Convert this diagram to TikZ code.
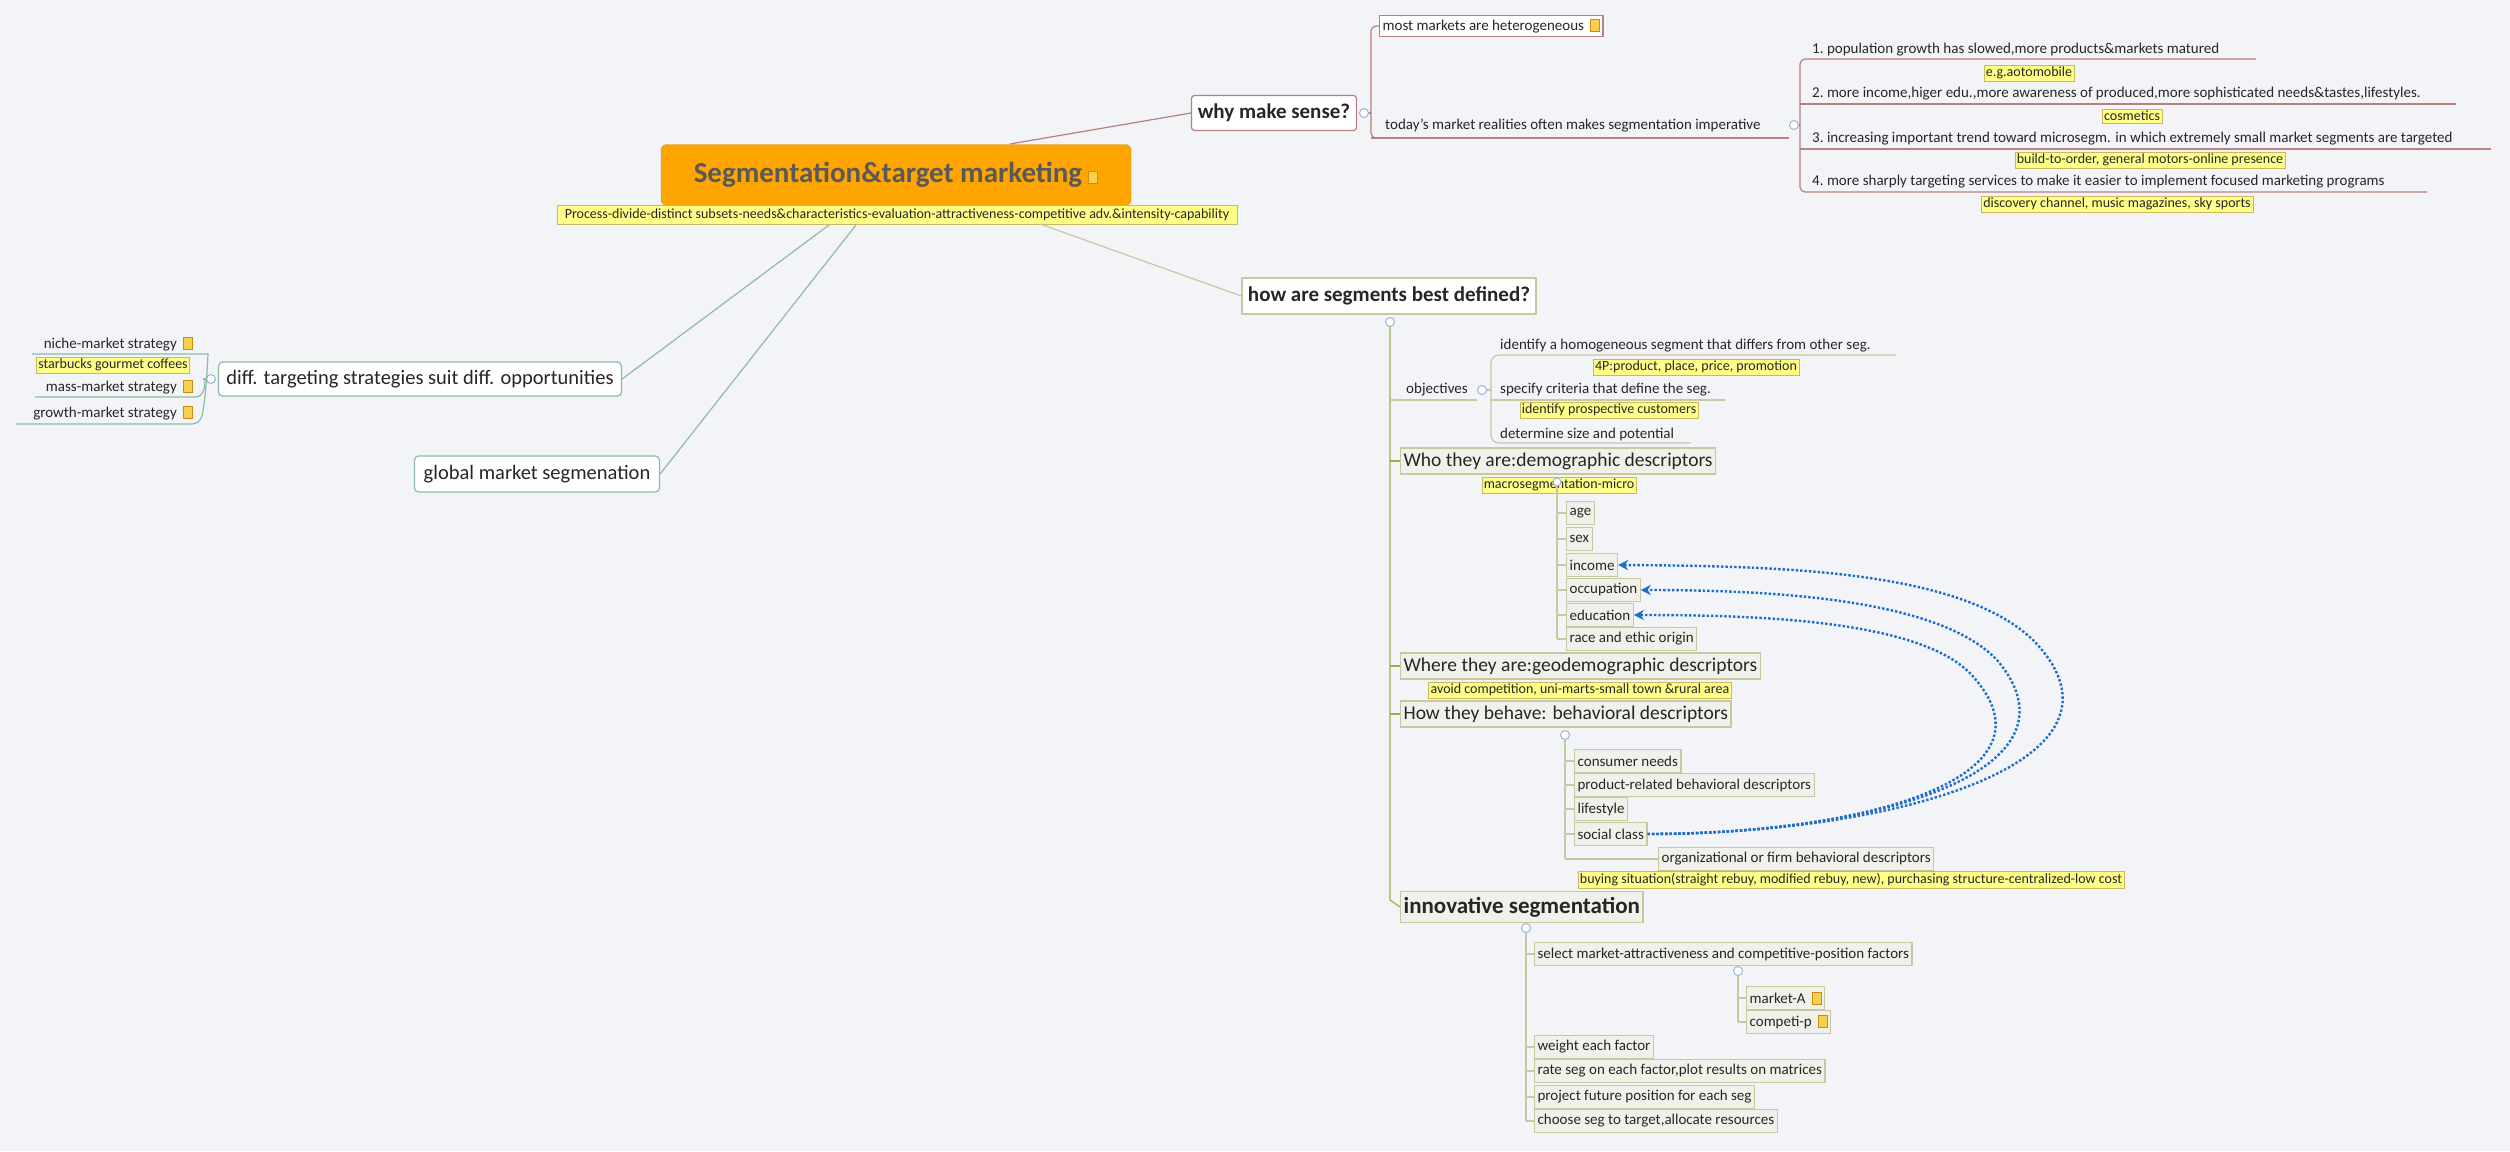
\documentclass[tikz,border=0pt]{standalone}
\usepackage{fontspec}
\setmainfont{Carlito}
\usetikzlibrary{arrows.meta}
\definecolor{bg}{HTML}{F2F4F7}
\definecolor{org}{HTML}{FFA500}
\definecolor{orgd}{HTML}{D08A10}
\definecolor{icf}{HTML}{F8D050}
\definecolor{redl}{HTML}{B88080}
\definecolor{oli}{HTML}{A4AA50}
\definecolor{olil}{HTML}{C8C8A0}
\definecolor{boxf}{HTML}{F1F1EC}
\definecolor{notef}{HTML}{FFFF88}
\definecolor{notec}{HTML}{C8B860}
\definecolor{grn}{HTML}{8CBCA8}
\definecolor{blu}{HTML}{1E6EC8}
\definecolor{circ}{HTML}{98B4DC}
\newcommand{\fs}[1]{\fontsize{#1}{#1}\selectfont}
\newcommand{\ico}{\hspace{6pt}{\setlength{\fboxsep}{0pt}\setlength{\fboxrule}{1pt}\fcolorbox{orgd}{icf}{\rule{0pt}{11pt}\hspace{8pt}}}}
\tikzset{
  txt/.style={inner sep=1pt, font=\fs{15}, text=black!85},
  bx/.style={draw=olil, fill=boxf, line width=1.2pt, inner sep=3pt, font=\fs{15}, text=black!85, minimum height=23pt},
  nt/.style={draw=notec, fill=notef, inner sep=2pt, font=\fs{14}, text=black!85},
  rl/.style={draw=redl, line width=1.2pt},
  ol/.style={draw=oli, line width=1.2pt},
  olb/.style={draw=olil, line width=1.2pt},
  gl/.style={draw=grn, line width=1.2pt},
  dots/.style={draw=blu, line width=2.4pt, dotted, -{Stealth[length=10pt,width=10pt]}},
  cir/.style={circle, draw=circ, line width=1pt, fill=white, inner sep=0pt, minimum size=9pt}
}
\begin{document}
\begin{tikzpicture}[x=1pt,y=-1pt]
\fill[bg] (0,0) rectangle (2510,1151);
\useasboundingbox (0,0) rectangle (2510,1151);

% central
\node[draw=orgd, fill=org, rounded corners=6pt, minimum width=470pt, minimum height=61pt, font=\fs{29}\bfseries, text=black!65] (c) at (896,175) {Segmentation\&target marketing\ico};
\node[nt, minimum width=680pt, minimum height=19pt, font=\fs{14}] (cn) at (897,215) {Process-divide-distinct subsets-needs\&characteristics-evaluation-attractiveness-competitive adv.\&intensity-capability};

% why make sense
\node[draw=redl, fill=white, rounded corners=3pt, line width=1.2pt, minimum width=165pt, minimum height=35pt, font=\fs{21}\bfseries, text=black!85] (why) at (1274,113) {why make sense?};
\draw[rl] (1010,144) -- (why.west);
\node[cir] (whyc) at (1364,113) {};
\draw[rl, rounded corners=5pt] (1379,26) -- (1371,26) -- (1371,138) -- (1386,138);
\draw[rl] (whyc.east) -- (1371,113);
\node[draw=redl, fill=white, line width=1.2pt, inner sep=3pt, font=\fs{15}, text=black!85, anchor=west] (mm) at (1379,26) {most markets are heterogeneous\ico};
\node[txt, anchor=west] (tm) at (1384,125) {today's market realities often makes segmentation imperative};
\draw[rl] (1371,138) -- (1789,138);
\node[cir] (tmc) at (1794,125) {};
\draw[rl, rounded corners=5pt] (2256,59) -- (1800,59) -- (1800,192) -- (2427,192);
\draw[rl] (tmc.east) -- (1800,125);
\draw[rl] (1800,104) -- (2456,104);
\draw[rl] (1800,149) -- (2491,149);
\node[txt, anchor=west] (p1) at (1811,50) {1.\ population growth has slowed,more products\&markets matured};
\node[nt] (n1) at (2029,73) {e.g.aotomobile};
\node[txt, anchor=west] (p2) at (1811,94) {2.\ more income,higer edu.,more awareness of produced,more sophisticated needs\&tastes,lifestyles.};
\node[nt] (n2) at (2132,116) {cosmetics};
\node[txt, anchor=west] (p3) at (1811,139) {3.\ increasing important trend toward microsegm. in which extremely small market segments are targeted};
\node[nt] (n3) at (2150,160) {build-to-order, general motors-online presence};
\node[txt, anchor=west] (p4) at (1811,182) {4.\ more sharply targeting services to make it easier to implement focused marketing programs};
\node[nt] (n4) at (2117,204) {discovery channel, music magazines, sky sports};

% how are segments
\node[draw=olil, fill=white, line width=1.5pt, minimum width=294pt, minimum height=36pt, font=\fs{21}\bfseries, text=black!85] (how) at (1389,296) {how are segments best defined?};
\draw[olb] (1040,224) -- (how.west);
\node[cir] (howc) at (1390,322) {};
\draw[ol] (howc.south) -- (1390,900) -- (1400,907);
% objectives
\node[txt, anchor=west] (obj) at (1405,390) {objectives};
\draw[olb] (1390,400) -- (1477,400);
\node[cir] (objc) at (1482,390) {};
\draw[olb, rounded corners=8pt] (1896,355) -- (1491,355) -- (1491,443) -- (1691,443);
\draw[olb] (objc.east) -- (1491,390);
\draw[olb] (1491,400) -- (1725,400);
\node[txt, anchor=west] (o1) at (1499,346) {identify a homogeneous segment that differs from other seg.};
\node[nt] (on1) at (1696,367) {4P:product, place, price, promotion};
\node[txt, anchor=west] (o2) at (1499,390) {specify criteria that define the seg.};
\node[nt] (on2) at (1609,410) {identify prospective customers};
\node[txt, anchor=west] (o3) at (1499,434) {determine size and potential};

% who
\node[bx, anchor=west, font=\fs{19.5}, minimum height=26pt] (who) at (1400,461) {Who they are:demographic descriptors};
\draw[ol] (1390,461) -- (who.west);
\node[nt] (whon) at (1559,485) {macrosegmentation-micro};
\node[cir, minimum size=8pt] (whoc) at (1557,482) {};
\draw[olb] (whoc.south) -- (1557,639);
\foreach \n/\t/\y in {age/age/513, sex/sex/539, inc/income/565, occ/occupation/590, edu/education/615, race/race and ethic origin/639}{
  \node[bx, anchor=west] (\n) at (1566,\y) {\t};
  \draw[olb] (1557,\y) -- (\n.west);
}
% where
\node[bx, anchor=west, font=\fs{19.5}, minimum height=26pt] (where) at (1400,666) {Where they are:geodemographic descriptors};
\draw[ol] (1390,666) -- (where.west);
\node[nt] (wheren) at (1580,690) {avoid competition, uni-marts-small town \&rural area};
% how behave
\node[bx, anchor=west, font=\fs{19.5}, minimum height=26pt] (beh) at (1400,714) {How they behave: behavioral descriptors};
\draw[ol] (1390,714) -- (beh.west);
\node[cir] (behc) at (1565,735) {};
\draw[olb] (behc.south) -- (1565,859);
\foreach \n/\t/\y in {cn/consumer needs/761, pr/product-related behavioral descriptors/785, ls/lifestyle/809, soc/social class/834}{
  \node[bx, anchor=west] (\n) at (1574,\y) {\t};
  \draw[olb] (1565,\y) -- (\n.west);
}
\node[bx, anchor=west] (org) at (1658,859) {organizational or firm behavioral descriptors};
\draw[olb] (1565,859) -- (org.west);
\node[nt] (orgn) at (1851,880) {buying situation(straight rebuy, modified rebuy, new), purchasing structure-centralized-low cost};

% dotted relations
\draw[dots] (soc.east) .. controls (1900,834) and (2150,760) .. (2033,640) .. controls (1960,570) and (1780,566) .. (inc.east);
\draw[dots] (soc.east) .. controls (1880,834) and (2090,770) .. (1997,660) .. controls (1940,600) and (1780,590) .. (occ.east);
\draw[dots] (soc.east) .. controls (1860,834) and (2060,780) .. (1976,680) .. controls (1930,620) and (1760,615) .. (edu.east);

% innovative
\node[bx, anchor=west, font=\fs{23}\bfseries, minimum height=31pt] (inn) at (1400,907) {innovative segmentation};
\node[cir] (innc) at (1526,928) {};
\draw[olb] (innc.south) -- (1526,1121);
\node[bx, anchor=west] (sel) at (1534,954) {select market-attractiveness and competitive-position factors};
\draw[olb] (1526,954) -- (sel.west);
\node[cir] (selc) at (1738,971) {};
\draw[olb] (selc.south) -- (1738,1022);
\node[bx, anchor=west] (ma) at (1746,998) {market-A\ico};
\node[bx, anchor=west] (cp) at (1746,1022) {competi-p\ico};
\draw[olb] (1738,998) -- (ma.west);
\draw[olb] (1738,1022) -- (cp.west);
\foreach \n/\t/\y in {w/weight each factor/1047, r/{rate seg on each factor,plot results on matrices}/1071, p/project future position for each seg/1097, ch/{choose seg to target,allocate resources}/1121}{
  \node[bx, anchor=west] (\n) at (1534,\y) {\t};
  \draw[olb] (1526,\y) -- (\n.west);
}

% left side
\node[draw=grn, fill=white, rounded corners=4pt, line width=1.2pt, minimum width=403pt, minimum height=34pt, font=\fs{20.5}, text=black!85] (diff) at (420,379) {diff. targeting strategies suit diff. opportunities};
\node[draw=grn, fill=white, rounded corners=4pt, line width=1.2pt, minimum width=245pt, minimum height=36pt, font=\fs{20.5}, text=black!85] (glob) at (537,474) {global market segmenation};
\draw[gl] (829,225) -- (diff.east);
\draw[gl] (856,225) -- (glob.east);
\node[cir] (diffc) at (211,379) {};
\draw[gl] (diffc.west) -- (203,379);
\draw[gl, rounded corners=8pt] (32,354) -- (200,354) .. controls (208,354) and (206,400) .. (200,424) -- (16,424);
\draw[gl] (35,397) -- (196,397) .. controls (202,397) and (205,390) .. (205,380);
\node[txt, anchor=east] (nm) at (194,344) {niche-market strategy\ico};
\node[nt] (sb) at (113,365) {starbucks gourmet coffees};
\node[txt, anchor=east] (ms) at (194,387) {mass-market strategy\ico};
\node[txt, anchor=east] (gm) at (194,413) {growth-market strategy\ico};
\end{tikzpicture}
\end{document}
